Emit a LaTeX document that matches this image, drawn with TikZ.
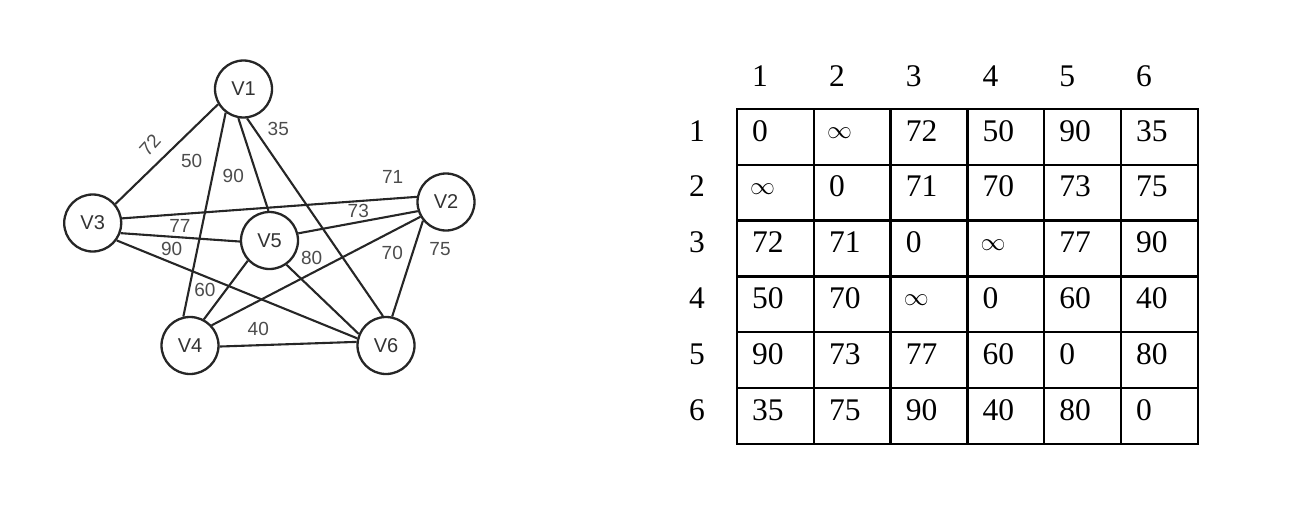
\documentclass[tikz,border=0pt]{standalone}
\usepackage{fontspec}
\setmainfont{Liberation Serif}
\newfontfamily\gsans{Liberation Sans}
\def\isinf{I}
\begin{document}
\begin{tikzpicture}[x=1pt,y=-1pt,
  vtx/.style={circle,draw=black!85,line width=2.3pt,minimum size=57pt,inner sep=0pt,
    font=\gsans\fontsize{20}{20}\selectfont,text=black!80,fill=white},
  edge/.style={draw=black!85,line width=2.1pt},
  wlab/.style={font=\gsans\fontsize{19}{19}\selectfont,text=black!70,inner sep=0pt},
  cell/.style={anchor=base west,font=\fontsize{31.5}{32}\selectfont,inner sep=0pt},
  infc/.style={anchor=base west,font=\fontsize{23}{23}\selectfont,inner sep=0pt},
  grid/.style={draw=black,line width=2.3pt}
]
\useasboundingbox (0,0) rectangle (1310,522);
% ---------- graph ----------
\node[vtx] (v1) at (243.5,89) {V1};
\node[vtx] (v2) at (446,202) {V2};
\node[vtx] (v3) at (92.7,223) {V3};
\node[vtx] (v5) at (269.5,240.5) {V5};
\node[vtx] (v4) at (190,345.5) {V4};
\node[vtx] (v6) at (386,345.5) {V6};

\draw[edge] (v1.211) -- (v3.40);
\draw[edge] (v1.233) -- (v4.103);
\draw[edge] (v1.260) -- (v5.92);
\draw[edge] (v1.277) -- (v6.96);
\draw[edge] (v3.9) -- (v2.170);
\draw[edge] (v3.-20) -- (v5.182);
\draw[edge] (v3.-36) -- (v6.166);
\draw[edge] (v5.14) -- (v2.198);
\draw[edge] (v4.43) -- (v2.210);
\draw[edge] (v6.78) -- (v2.219);
\draw[edge] (v5.223) -- (v4.62);
\draw[edge] (v5.305) -- (v6.157);
\draw[edge] (v4.-2) -- (v6.173);

\node[wlab,rotate=48] (l72) at (150,145) {72};
\node[wlab] (l50) at (191.7,161) {50};
\node[wlab] (l90a) at (233.3,176) {90};
\node[wlab] (l35) at (278.3,129.3) {35};
\node[wlab] (l71) at (392.7,176.7) {71};
\node[wlab] (l73) at (358.3,211) {73};
\node[wlab] (l77) at (180,225.7) {77};
\node[wlab] (l90b) at (171.7,249.3) {90};
\node[wlab] (l80) at (311.7,258.3) {80};
\node[wlab] (l70) at (392.3,252.7) {70};
\node[wlab] (l75) at (440,249.3) {75};
\node[wlab] (l60) at (205,290) {60};
\node[wlab] (l40) at (258.3,329.3) {40};

% ---------- table ----------
\def\cw{76.8}\def\rh{55.8}
\draw[grid] (737,109) rectangle (1197.8,443.8);
\foreach \i in {1,...,5}{
  \draw[grid] (737+\i*\cw,109) -- (737+\i*\cw,443.8);
  \draw[grid] (737,109+\i*\rh) -- (1197.8,109+\i*\rh);
}
% headers
\foreach \j in {1,...,6}{
  \node[cell] (h\j) at (752+\j*\cw-\cw,86) {\j};
  \node[cell] (r\j) at (689,141+\j*\rh-\rh) {\j};
}
% cells
\foreach \row [count=\i] in {
  {0,I,72,50,90,35},
  {I,0,71,70,73,75},
  {72,71,0,I,77,90},
  {50,70,I,0,60,40},
  {90,73,77,60,0,80},
  {35,75,90,40,80,0}}{
  \foreach \v [count=\j] in \row {
    \ifx\v\isinf
      \node[infc] (c\i\j) at (750+\j*\cw-\cw,138.5+\i*\rh-\rh) {$\infty$};
    \else
      \node[cell] (c\i\j) at (752+\j*\cw-\cw,141+\i*\rh-\rh) {\v};
    \fi
  }
}
\end{tikzpicture}
\end{document}
